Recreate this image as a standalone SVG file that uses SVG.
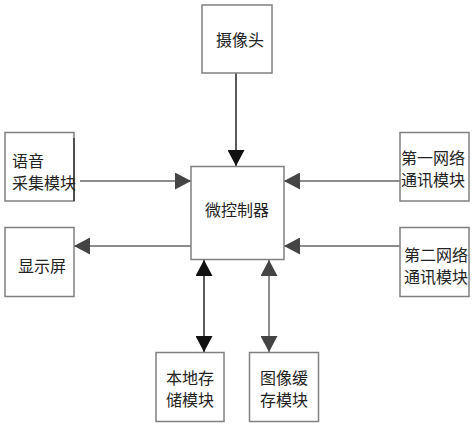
<svg xmlns="http://www.w3.org/2000/svg" width="474" height="428" viewBox="0 0 474 428">
<style>
.box{fill:#fff;stroke:#808080;stroke-width:1.5}
.t{font-family:"Noto Sans CJK SC","Noto Sans",sans-serif;font-size:16px;fill:#222}
.ln{stroke:#666;stroke-width:1.5;fill:none}
.lnk{stroke:#222;stroke-width:1.5;fill:none}
</style>
<defs>
<marker id="ag" markerUnits="userSpaceOnUse" markerWidth="16" markerHeight="17" refX="16" refY="8.5" orient="auto-start-reverse" viewBox="0 0 16 17"><path d="M0,0 L16,8.5 L0,17 z" fill="#444"/></marker>
<marker id="ak" markerUnits="userSpaceOnUse" markerWidth="16" markerHeight="17" refX="16" refY="8.5" orient="auto-start-reverse" viewBox="0 0 16 17"><path d="M0,0 L16,8.5 L0,17 z" fill="#111"/></marker>
</defs>
<rect width="474" height="428" fill="#fff"/>
<g id="connectors">
<line class="lnk" x1="236" y1="73" x2="236" y2="166" marker-end="url(#ak)"/>
<line class="ln" x1="80" y1="181" x2="191" y2="181" marker-end="url(#ag)"/>
<line class="ln" x1="400" y1="181" x2="284" y2="181" marker-end="url(#ag)"/>
<line class="ln" x1="191" y1="246" x2="74" y2="246" marker-end="url(#ag)"/>
<line class="ln" x1="400" y1="246" x2="284" y2="246" marker-end="url(#ag)"/>
<line class="lnk" x1="204" y1="260" x2="204" y2="352" marker-start="url(#ak)" marker-end="url(#ak)"/>
<line class="ln" x1="269" y1="260" x2="269" y2="352" marker-start="url(#ag)" marker-end="url(#ag)"/>
</g>
<g id="camera"><rect class="box" x="202" y="5" width="70" height="68"/><text class="t" x="240" y="46" text-anchor="middle">摄像头</text></g>
<g id="mcu"><rect class="box" x="191" y="166.5" width="93" height="93"/><text class="t" x="237" y="216" text-anchor="middle">微控制器</text></g>
<g id="voice"><rect class="box" x="5" y="132.5" width="69" height="68.5"/><line x1="74" y1="138" x2="74" y2="201" stroke="#333" stroke-width="1.5"/><text class="t" x="12" y="167">语音<tspan x="12" dy="22">采集模块</tspan></text></g>
<g id="net1"><rect class="box" x="400" y="132.5" width="69" height="68.5"/><text class="t" x="401" y="164">第一网络<tspan x="401" dy="22">通讯模块</tspan></text></g>
<g id="display"><rect class="box" x="5" y="227.5" width="69" height="69"/><text class="t" x="18" y="272">显示屏</text></g>
<g id="net2"><rect class="box" x="400" y="227.5" width="69" height="69"/><text class="t" x="404" y="261">第二网络<tspan x="404" dy="22">通讯模块</tspan></text></g>
<g id="storage"><rect class="box" x="156" y="352.5" width="68" height="69"/><text class="t" x="166" y="384">本地存<tspan x="166" dy="22">储模块</tspan></text></g>
<g id="cache"><rect class="box" x="249.5" y="352.5" width="69" height="69"/><text class="t" x="260" y="384">图像缓<tspan x="260" dy="22">存模块</tspan></text></g>
</svg>
